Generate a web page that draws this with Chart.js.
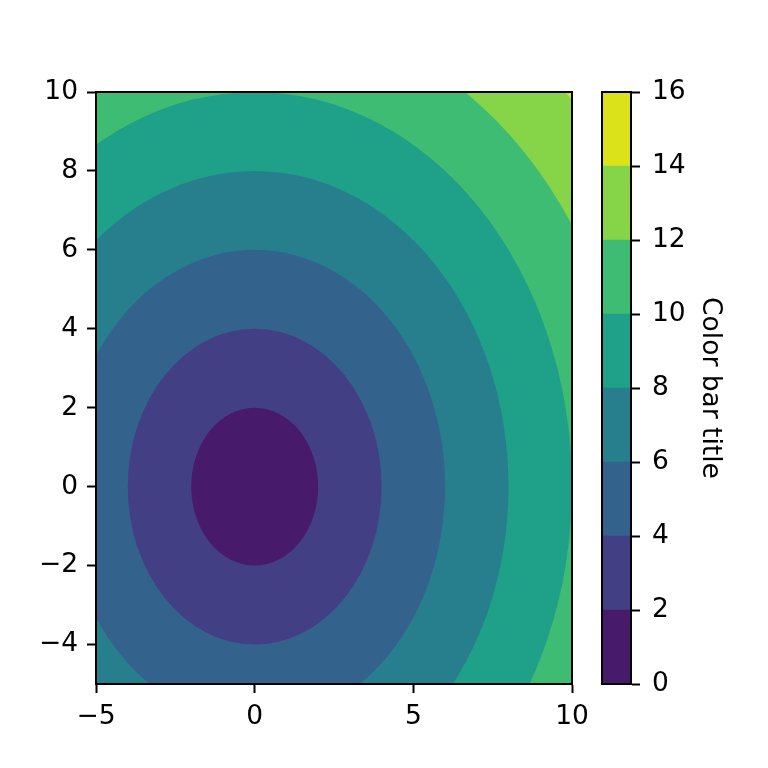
<!DOCTYPE html>
<html>
<head>
<meta charset="utf-8">
<script src="https://cdn.jsdelivr.net/npm/chart.js@4/dist/chart.umd.min.js"></script>
<style>
  body { margin: 0; background: #fff; }
  #wrap { position: relative; width: 768px; height: 768px; }
  #wrap canvas { position: absolute; left: 0; top: 0; }
  #bar { pointer-events: none; }
</style>
</head>
<body>
<div id="wrap">
  <canvas id="main" width="768" height="768"></canvas>
  <canvas id="bar" width="768" height="768"></canvas>
</div>
<script>
// contour levels and the band colours between them (viridis)
var levels = [0, 2, 4, 6, 8, 10, 12, 14, 16];
var bandColors = ['#481a6c', '#433f85', '#33638d', '#277f8e', '#1fa088', '#3fbc73', '#86d549', '#dbe219'];
// centre of the circular field z = sqrt((x-cx)^2 + (y-cy)^2)
var center = [0, 0];
var xTicks = [-5, 0, 5, 10];
var yTicks = [-4, -2, 0, 2, 4, 6, 8, 10];
var cbTicks = [0, 2, 4, 6, 8, 10, 12, 14, 16];

var fontSpec = { family: 'DejaVu Sans', size: 26.5 };

function minusSign(v) {
    return ('' + v).replace('-', '\u2212');
}

var contourPlugin = {
    id: 'contours',
    beforeDatasetsDraw: function (chart) {
        var ctx = chart.ctx, a = chart.chartArea;
        var xs = chart.scales.x, ys = chart.scales.y;
        var px = xs.getPixelForValue(center[0]), py = ys.getPixelForValue(center[1]);
        ctx.save();
        ctx.beginPath();
        ctx.rect(a.left, a.top, a.right - a.left, a.bottom - a.top);
        ctx.clip();
        ctx.fillStyle = bandColors[bandColors.length - 1];
        ctx.fillRect(a.left, a.top, a.right - a.left, a.bottom - a.top);
        for (var i = levels.length - 2; i >= 1; i--) {
            var rx = Math.abs(xs.getPixelForValue(center[0] + levels[i]) - px);
            var ry = Math.abs(ys.getPixelForValue(center[1] + levels[i]) - py);
            ctx.beginPath();
            ctx.ellipse(px, py, rx, ry, 0, 0, Math.PI * 2);
            ctx.fillStyle = bandColors[i - 1];
            ctx.fill();
        }
        ctx.restore();
    }
};

// black frame around a chart area
var boxPlugin = {
    id: 'box',
    afterDatasetsDraw: function (chart) {
        var ctx = chart.ctx, a = chart.chartArea;
        ctx.save();
        ctx.strokeStyle = '#000';
        ctx.lineWidth = 2;
        ctx.strokeRect(a.left, a.top, a.right - a.left, a.bottom - a.top);
        ctx.restore();
    }
};

function axisStyle(pad) {
    return {
        border: { display: true, color: '#000', width: 2 },
        grid: { drawOnChartArea: false, drawTicks: true, tickLength: 9, tickColor: '#000', tickWidth: 2 },
        ticks: { color: '#000', font: fontSpec, padding: pad, maxRotation: 0, autoSkip: false,
                 callback: function (v) { return minusSign(v); } }
    };
}

var xOpt = axisStyle(8);
xOpt.type = 'linear';
xOpt.min = -5; xOpt.max = 10;
xOpt.afterBuildTicks = function (s) { s.ticks = xTicks.map(function (v) { return { value: v }; }); };
xOpt.afterFit = function (s) { s.height = 84; };

var yOpt = axisStyle(9);
yOpt.type = 'linear';
yOpt.min = -5; yOpt.max = 10;
yOpt.afterBuildTicks = function (s) { s.ticks = yTicks.map(function (v) { return { value: v }; }); };
yOpt.afterFit = function (s) { s.width = 96; };

new Chart(document.getElementById('main'), {
    type: 'scatter',
    data: { datasets: [{ data: [] }] },
    options: {
        responsive: false,
        devicePixelRatio: 1,
        animation: false,
        layout: { padding: { left: 0, top: 92, right: 196, bottom: 0 } },
        plugins: { legend: { display: false }, tooltip: { enabled: false } },
        scales: { x: xOpt, y: yOpt }
    },
    plugins: [contourPlugin, boxPlugin]
});

// colour bar: one floating bar per band
var cbSets = [];
for (var i = 0; i < bandColors.length; i++) {
    cbSets.push({
        data: [[levels[i], levels[i + 1]]],
        backgroundColor: bandColors[i],
        borderWidth: 0,
        barPercentage: 1,
        categoryPercentage: 1,
        grouped: false
    });
}

var cbOpt = axisStyle(12);
cbOpt.position = 'right';
cbOpt.min = 0; cbOpt.max = 16;
cbOpt.afterBuildTicks = function (s) { s.ticks = cbTicks.map(function (v) { return { value: v }; }); };
cbOpt.afterFit = function (s) { s.width = 95; };
cbOpt.title = { display: true, text: 'Color bar title', color: '#000', font: fontSpec, padding: 0 };

new Chart(document.getElementById('bar'), {
    type: 'bar',
    data: { labels: [''], datasets: cbSets },
    options: {
        responsive: false,
        devicePixelRatio: 1,
        animation: false,
        layout: { padding: { left: 602, top: 92, right: 42, bottom: 84 } },
        plugins: { legend: { display: false }, tooltip: { enabled: false } },
        scales: {
            x: { display: false },
            y: cbOpt
        }
    },
    plugins: [boxPlugin]
});
</script>
</body>
</html>
